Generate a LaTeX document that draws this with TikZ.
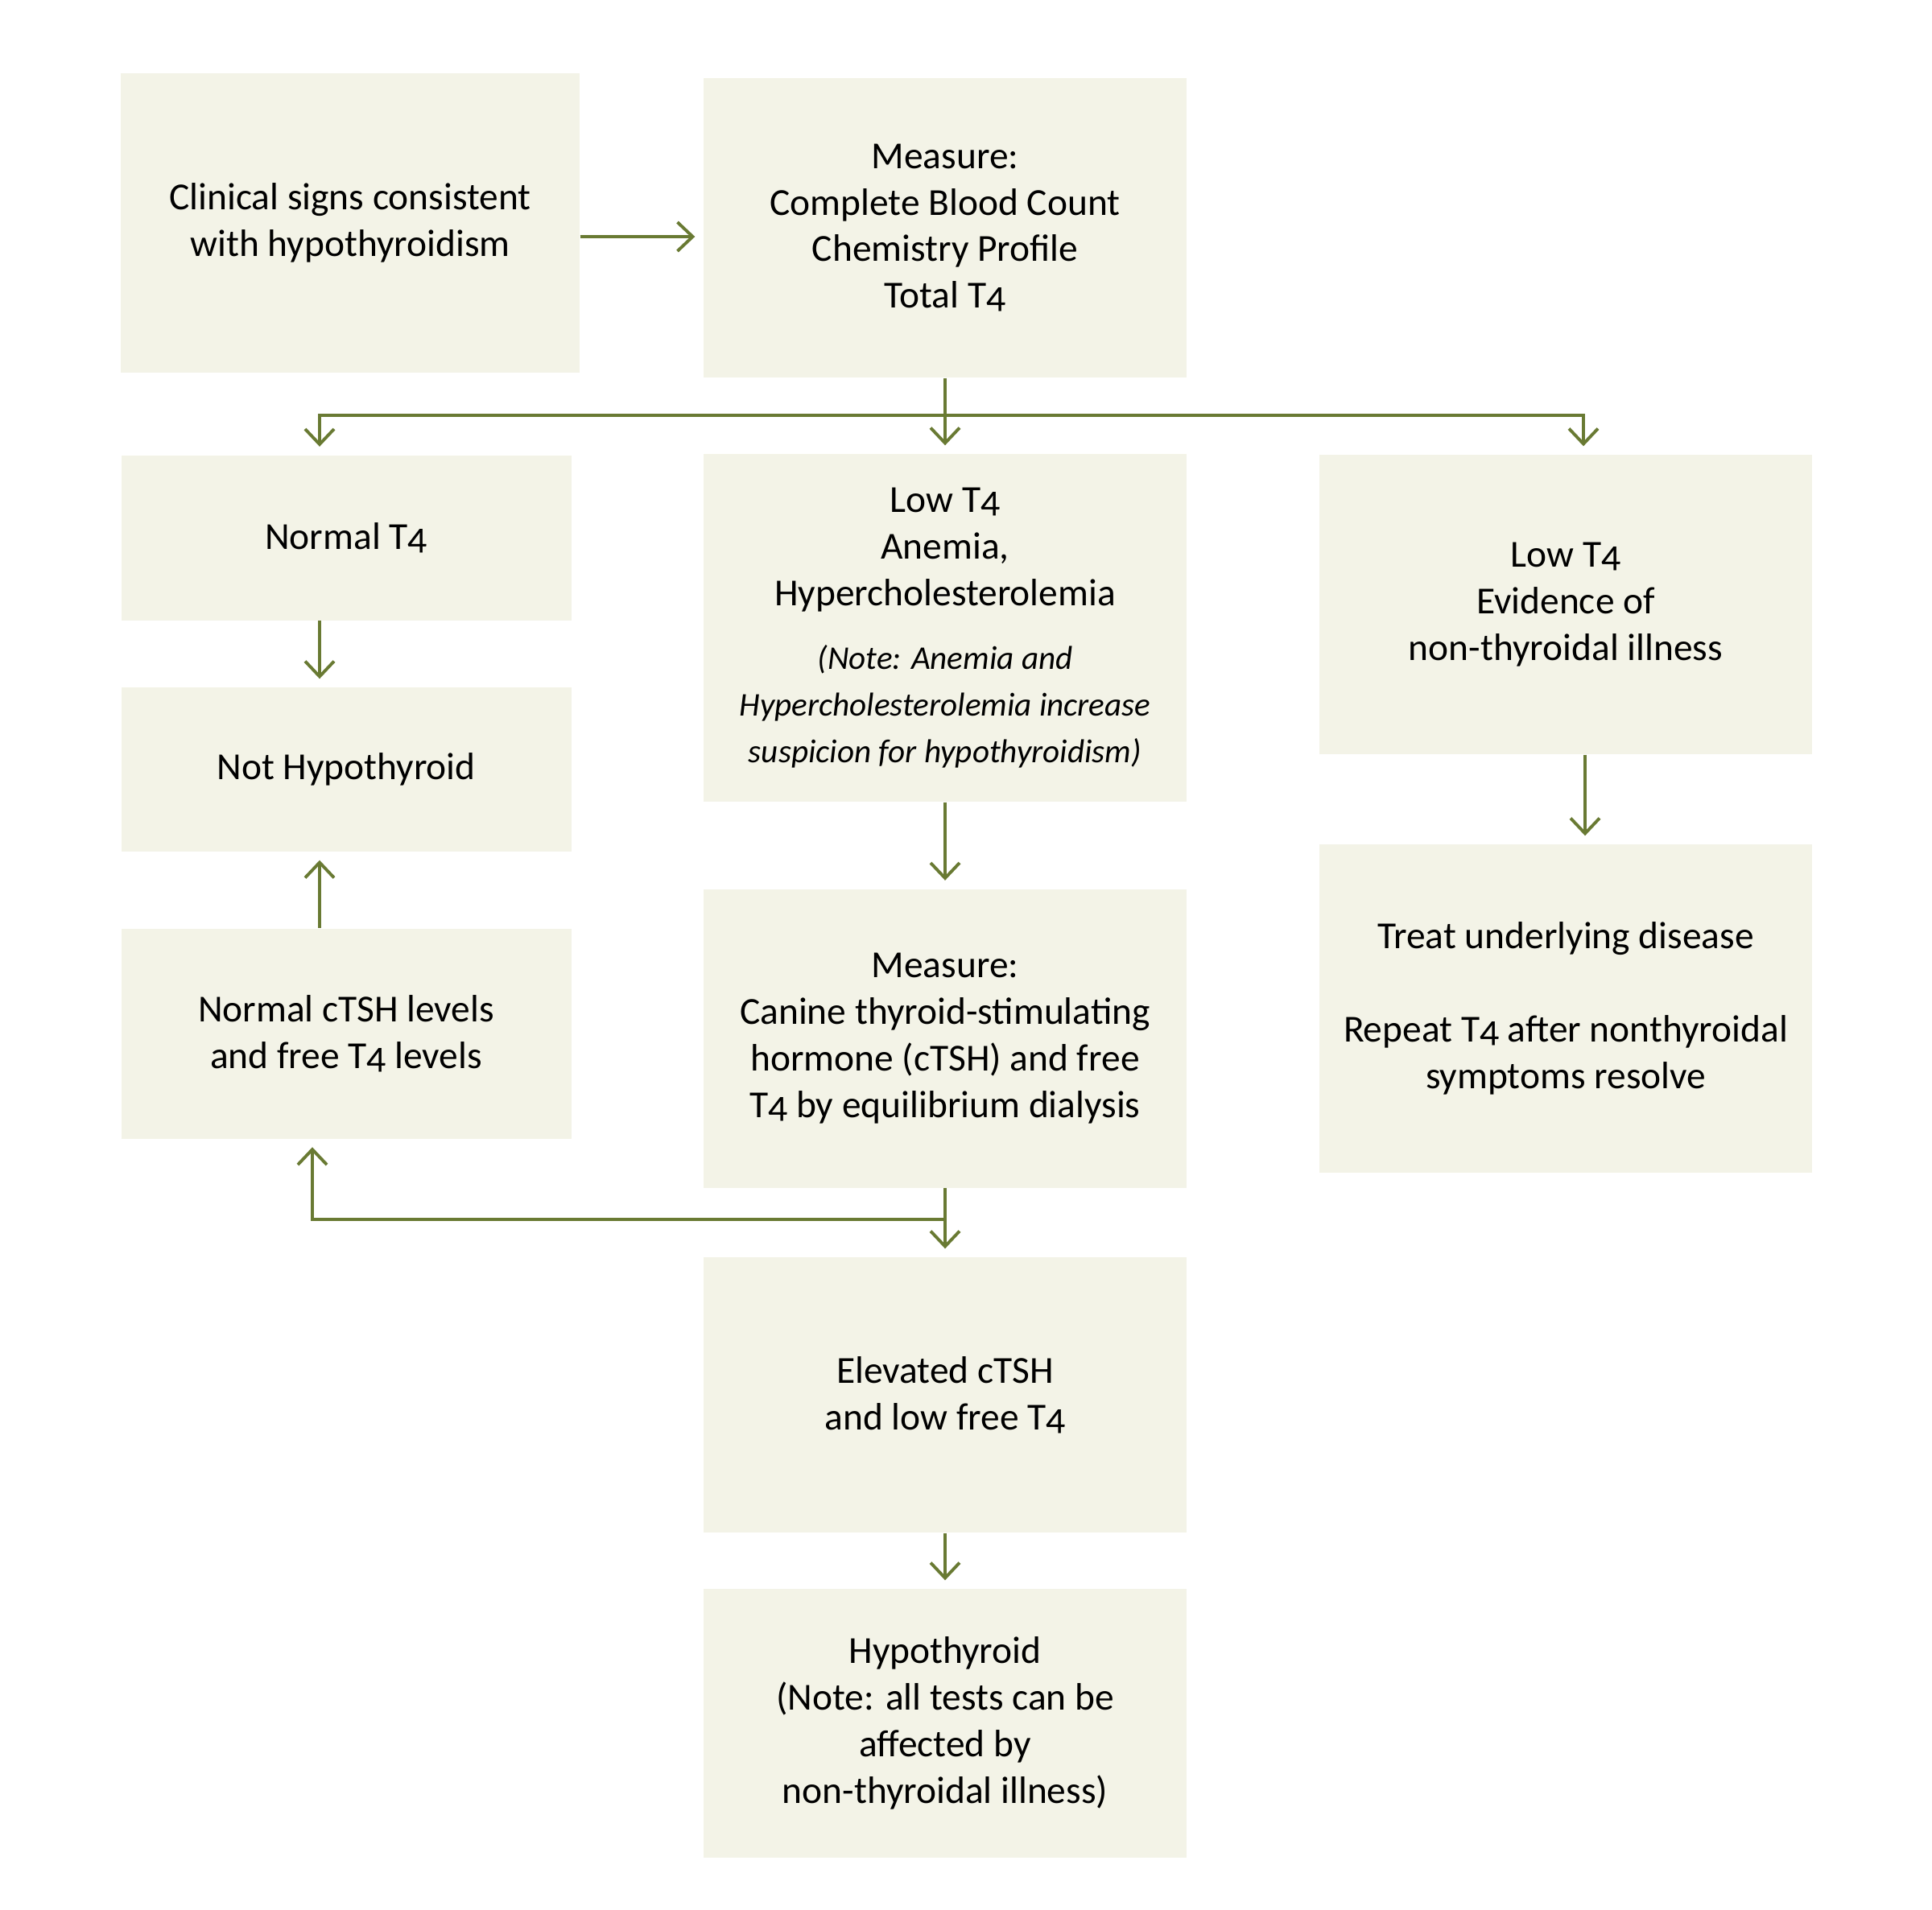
\documentclass[tikz,border=0pt]{standalone}
\usepackage{fontspec}
\setmainfont{Carlito}[Numbers=OldStyle]
\usepackage{xcolor}
\usepackage{tikz}
\usetikzlibrary{positioning,calc,arrows.meta}
\definecolor{boxfill}{HTML}{F3F3E7}
\definecolor{leaf}{HTML}{697A33}
\newcommand{\notefont}{\fontsize{11.7}{16.5}\selectfont\itshape}

\begin{document}
\begin{tikzpicture}[
    box/.style={rectangle, fill=boxfill, inner sep=0pt, align=center, font=\fontsize{13.5}{16.5}\selectfont},
    col1/.style={box, minimum width=5.59cm},
    col2/.style={box, minimum width=6.00cm},
    col3/.style={box, minimum width=6.12cm},
    arr/.style={draw=leaf, line width=1.1pt, -{Straight Barb[length=1.9mm,width=3.6mm]}, shorten >=1mm},
    link/.style={draw=leaf, line width=1.1pt}
]
    \useasboundingbox (0,0) rectangle (24,-23.72);

    % Boxes
    \node [box, minimum width=5.70cm, minimum height=3.72cm] (signs) at (4.35,-2.77) {Clinical signs consistent\\with hypothyroidism};
    \node [col2, minimum height=3.72cm] (measure) at (11.74,-2.83) {Measure:\\Complete Blood Count\\Chemistry Profile\\Total T4};
    \node [col1, minimum height=2.05cm] (normalt) at (4.30,-6.68) {Normal T4};
    \node [col2, minimum height=4.32cm] (lowanemia) at (11.74,-7.80) {Low T4\\Anemia,\\Hypercholesterolemia\\[6pt]\notefont (Note: Anemia and\\\notefont Hypercholesterolemia increase\\\notefont suspicion for hypothyroidism)};
    \node [col3, minimum height=3.72cm] (lowill) at (19.45,-7.51) {Low T4\\Evidence of\\non-thyroidal illness};
    \node [col1, minimum height=2.04cm] (nothypo) at (4.30,-9.56) {Not Hypothyroid};
    \node [col1, minimum height=2.61cm] (normalctsh) at (4.30,-12.84) {Normal cTSH levels\\and free T4 levels};
    \node [col2, minimum height=3.71cm] (measurectsh) at (11.74,-12.90) {Measure:\\Canine thyroid-stimulating\\hormone (cTSH) and free\\T4 by equilibrium dialysis};
    \node [col3, minimum height=4.08cm] (treat) at (19.45,-12.53) {Treat underlying disease\\[16.5pt]Repeat T4 after nonthyroidal\\symptoms resolve};
    \node [col2, minimum height=3.42cm] (elevated) at (11.74,-17.33) {Elevated cTSH\\and low free T4};
    \node [col2, minimum height=3.34cm] (hypo) at (11.74,-21.41) {Hypothyroid\\(Note: all tests can be\\affected by\\non-thyroidal illness)};

    % Connectors
    \draw [arr] ([yshift=-1.7mm]signs.east) -- ([yshift=-1.7mm]signs.east -| measure.west);

    \coordinate (fork) at ($(measure.south)+(0,-0.46)$);
    \draw [link] (measure.south) -- (fork);
    \draw [arr] (fork) -| ([xshift=-3.3mm]normalt.north);
    \draw [arr] (fork) -- (lowanemia.north);
    \draw [arr] (fork) -| ([xshift=2.2mm]lowill.north);

    \draw [arr] ([xshift=-3.3mm]normalt.south) -- ([xshift=-3.3mm]nothypo.north);
    \draw [arr] ([xshift=-3.3mm]normalctsh.north) -- ([xshift=-3.3mm]nothypo.south);
    \draw [arr] (lowanemia.south) -- (measurectsh.north);
    \draw [arr] ([xshift=2.4mm]lowill.south) -- ([xshift=2.4mm]treat.north);

    \coordinate (loop) at ($(measurectsh.south)+(0,-0.39)$);
    \draw [arr] (measurectsh.south) -- (elevated.north);
    \draw [arr] (loop) -| ([xshift=-4.2mm]normalctsh.south);
    \draw [arr] (elevated.south) -- (hypo.north);
\end{tikzpicture}
\end{document}
